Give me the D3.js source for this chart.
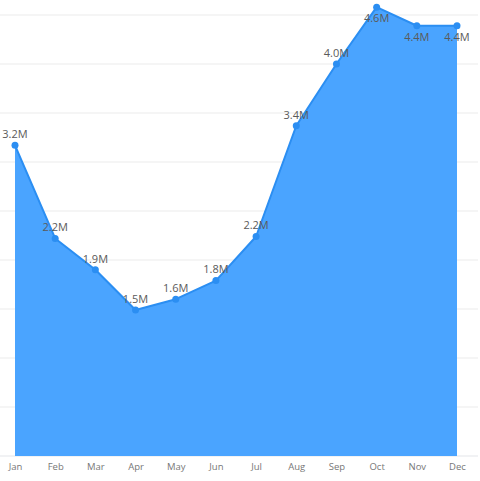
<!DOCTYPE html>
<html>
<head>
<meta charset="utf-8">
<script src="https://cdn.jsdelivr.net/npm/d3@7"></script>
<style>
  html, body { margin: 0; padding: 0; background: #fff; }
  svg { display: block; }
  text { font-family: "Segoe UI", "Open Sans", "Noto Sans", sans-serif; }
</style>
</head>
<body>
<svg id="chart" width="480" height="481"></svg>
<script>
const months = ["Jan","Feb","Mar","Apr","May","Jun","Jul","Aug","Sep","Oct","Nov","Dec"];
const values = [3.17, 2.22, 1.90, 1.49, 1.60, 1.79, 2.24, 3.37, 4.00, 4.58, 4.39, 4.39]; // millions
const gridTicks = [0, 0.5, 1, 1.5, 2, 2.5, 3, 3.5, 4, 4.5];

const W = 480, H = 481;
const svg = d3.select("#chart");

const x = d3.scalePoint().domain(months).range([15, 457]);
const y = d3.scaleLinear().domain([0, 4.5]).range([456, 15]);

// gridlines
svg.append("g").selectAll("line").data(gridTicks).join("line")
  .attr("x1", 0).attr("x2", 478)
  .attr("y1", d => y(d)).attr("y2", d => y(d))
  .attr("stroke", d => d === 0 ? "#e3e6ea" : "#ececec")
  .attr("stroke-width", 1.2);

const data = months.map((m, i) => ({ m, v: values[i] }));

// area
svg.append("path").datum(data)
  .attr("fill", "#4aa4ff")
  .attr("d", d3.area().x(d => x(d.m)).y0(y(0)).y1(d => y(d.v)));

// line
svg.append("path").datum(data)
  .attr("fill", "none")
  .attr("stroke", "#2b8ef2")
  .attr("stroke-width", 2)
  .attr("stroke-linejoin", "round")
  .attr("d", d3.line().x(d => x(d.m)).y(d => y(d.v)));

// points
svg.append("g").selectAll("circle").data(data).join("circle")
  .attr("cx", d => x(d.m)).attr("cy", d => y(d.v))
  .attr("r", 3.5).attr("fill", "#2b8ef2");

// data labels
svg.append("g").selectAll("text").data(data).join("text")
  .attr("x", d => x(d.m))
  .attr("y", d => {
    const py = y(d.v);
    const above = py - 11;
    return (above < 20 ? py + 11 : above);
  })
  .attr("dy", "0.35em")
  .attr("text-anchor", "middle")
  .attr("font-size", 11)
  .attr("fill", "#5a5a5a")
  .text(d => d3.format(".1f")(d.v) + "M");

// x axis labels
const xAxis = d3.axisBottom(x).tickSize(0).tickPadding(0);
const gx = svg.append("g").attr("transform", `translate(0,${463})`).call(xAxis);
gx.select(".domain").remove();
gx.selectAll("text").attr("font-size", 9.5).attr("fill", "#777")
  .attr("font-family", "\"Segoe UI\", \"Open Sans\", \"Noto Sans\", sans-serif");
</script>
</body>
</html>
